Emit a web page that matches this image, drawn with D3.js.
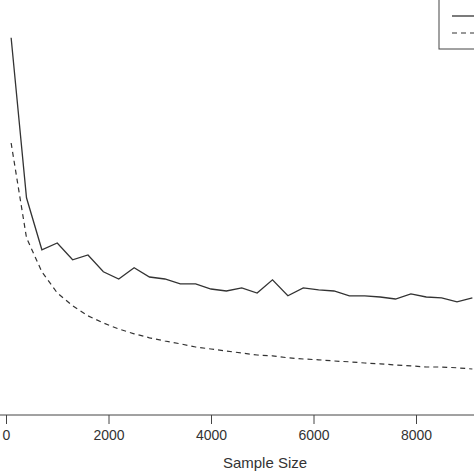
<!DOCTYPE html>
<html>
<head>
<script src="https://d3js.org/d3.v7.min.js"></script>
<style>body{margin:0;background:#fff}</style>
</head>
<body>
<div id="chart"></div>
<script>
// sample sizes and the two series (error, arbitrary units)
var sampleSizes = d3.range(31).map(function(i){ return 100 + 300 * i; });
var observed = [94.3,54.3,41.3,43,38.8,40,35.8,34,36.8,34.5,34,32.8,32.8,31.5,31,31.8,30.5,33.8,29.8,31.8,31.3,31,29.8,29.8,29.5,29,30.3,29.5,29.3,28.3,29.3];
var theoretical = [68,44.3,35.8,30.5,27.3,24.8,23,21.5,20.3,19.3,18.5,17.8,17,16.5,16,15.5,15,14.8,14.3,14,13.8,13.5,13.3,13,12.8,12.5,12.3,12,12,11.8,11.5];
var xTicks = [0, 2000, 4000, 6000, 8000];

var svg = d3.select("#chart").append("svg").attr("width", 474).attr("height", 474)
  .style("font-family", "Liberation Sans, Arial, sans-serif");

var x = d3.scaleLinear().domain([0, 8000]).range([6, 416]);
var y = d3.scaleLinear().domain([0, 100]).range([415, 15]);

// x axis
var ax = svg.append("g").attr("transform", "translate(0,415)")
  .call(d3.axisBottom(x).tickValues(xTicks).tickSize(9).tickPadding(6).tickFormat(d3.format("d")));
ax.select(".domain").attr("d", "M0,0H474").attr("stroke", "#444");
ax.selectAll(".tick line").attr("stroke", "#444");
ax.selectAll("text").attr("font-size", 14).attr("fill", "#333");

svg.append("text").attr("x", 265).attr("y", 468).attr("text-anchor", "middle")
  .attr("font-size", 15).attr("fill", "#333").text("Sample Size");

var line = function(vals){
  return d3.line().x(function(d,i){ return x(sampleSizes[i]); }).y(function(d){ return y(d); })(vals);
};
svg.append("path").attr("d", line(observed)).attr("fill", "none").attr("stroke", "#333").attr("stroke-width", 1.3);
svg.append("path").attr("d", line(theoretical)).attr("fill", "none").attr("stroke", "#333")
  .attr("stroke-width", 1.2).attr("stroke-dasharray", "5,4");

// legend (cut off at the edge)
var lg = svg.append("g");
lg.append("rect").attr("x", 439).attr("y", -5).attr("width", 60).attr("height", 54)
  .attr("fill", "none").attr("stroke", "#444");
lg.append("line").attr("x1", 452).attr("x2", 480).attr("y1", 16).attr("y2", 16).attr("stroke", "#333").attr("stroke-width", 1.3);
lg.append("line").attr("x1", 452).attr("x2", 480).attr("y1", 33).attr("y2", 33).attr("stroke", "#333")
  .attr("stroke-width", 1.2).attr("stroke-dasharray", "5,4");
</script>
</body>
</html>
